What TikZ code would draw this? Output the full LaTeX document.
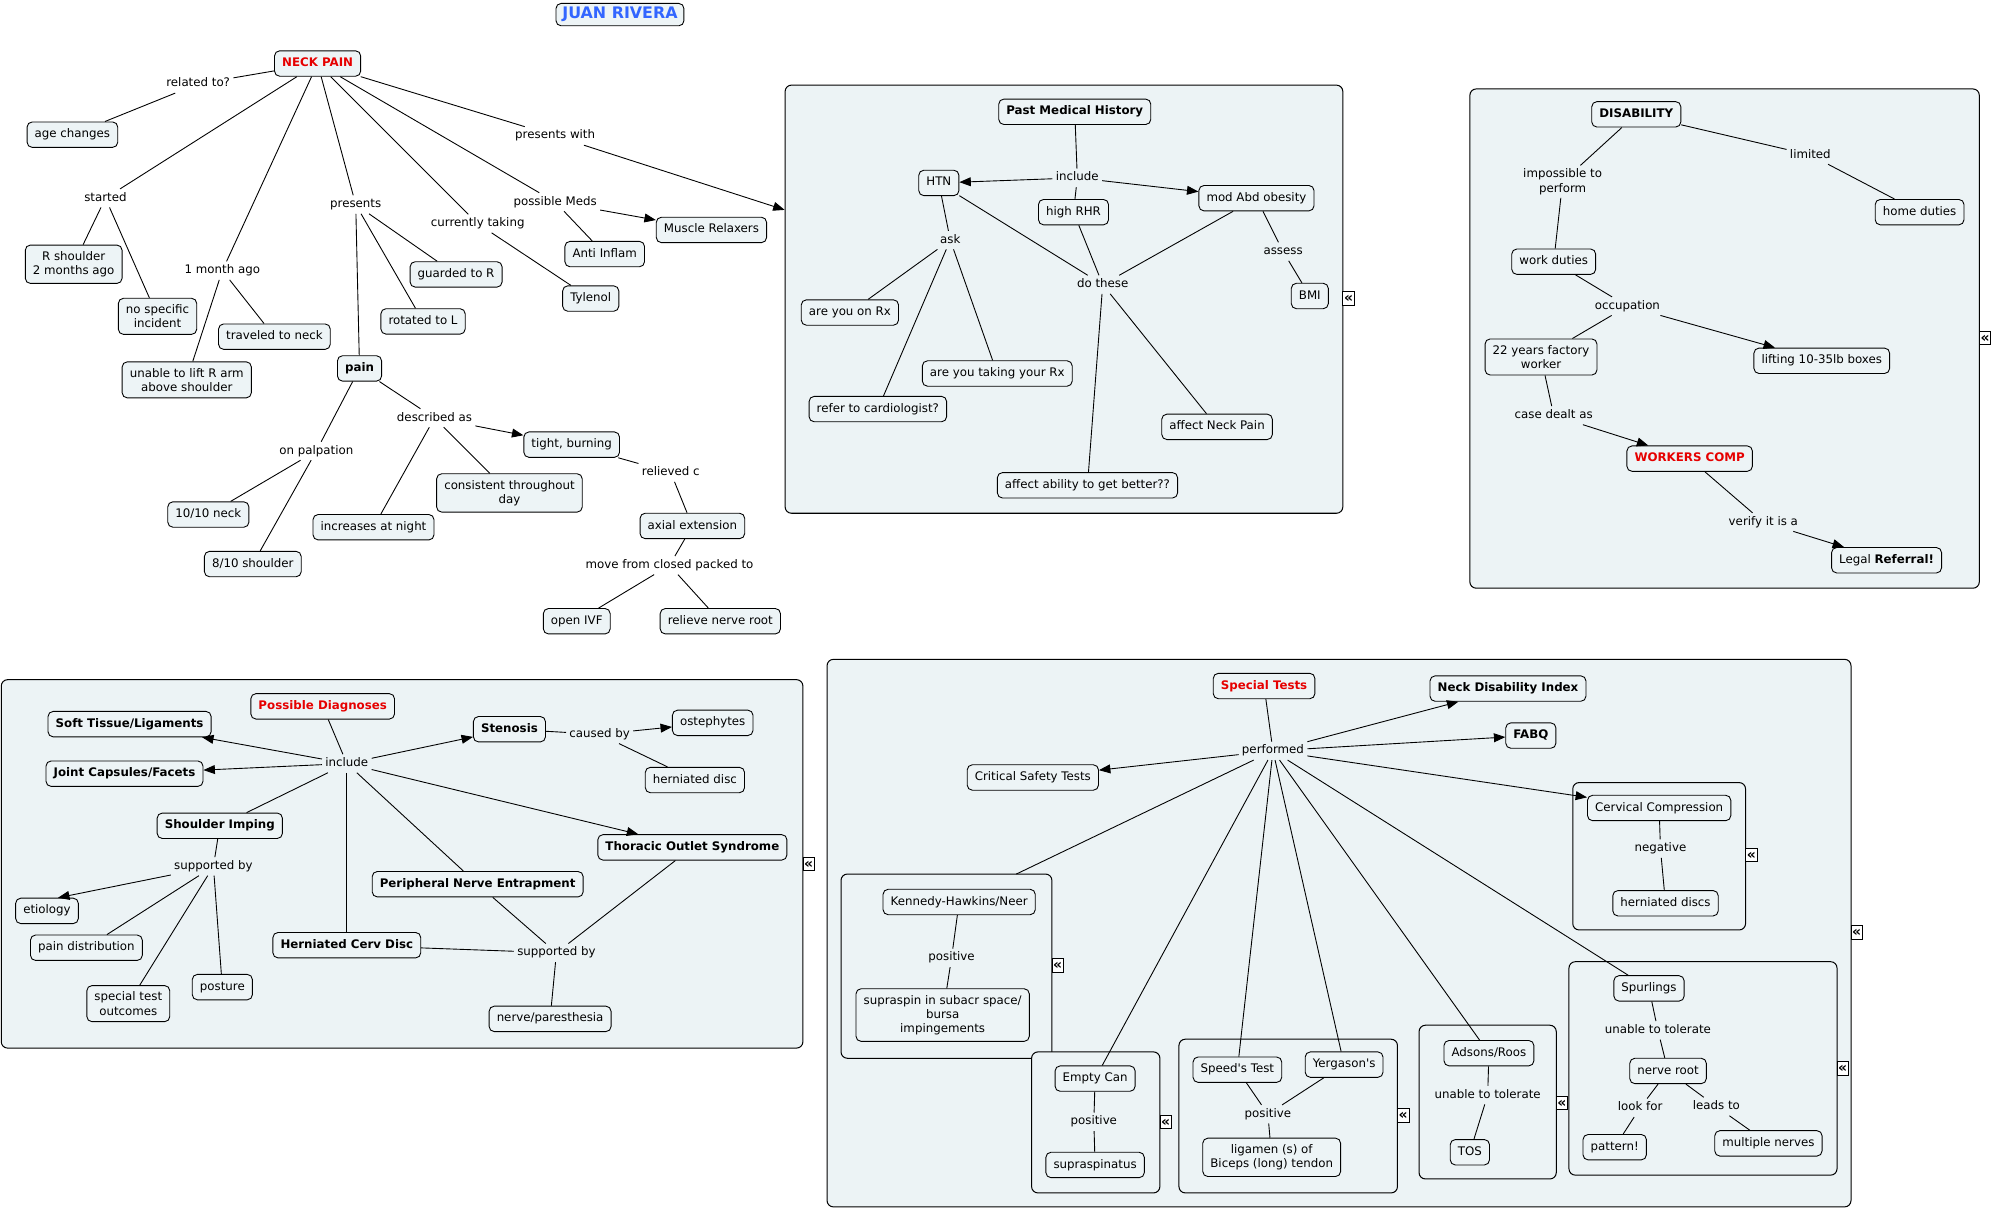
\documentclass[tikz,border=0pt]{standalone}
\usepackage{fontspec}
\setmainfont{DejaVu Sans}
\usetikzlibrary{arrows.meta,fit}
\definecolor{nfill}{RGB}{237,244,246}
\definecolor{cfill}{RGB}{236,243,245}
\definecolor{cmred}{RGB}{230,0,0}
\definecolor{cmblue}{RGB}{51,102,255}
\newcommand\nf{\fontsize{9.3}{11.2}\selectfont}
\begin{document}
\begin{tikzpicture}[x=1pt,y=-1pt,
  box/.style={draw, rounded corners=4pt, fill=nfill, line width=0.7pt, inner xsep=6pt, inner ysep=5.4pt, text height=7pt, text depth=2.2pt, font=\nf},
  bbox/.style={box, font=\nf\bfseries},
  rbox/.style={bbox, text=cmred},
  mbox/.style={draw, rounded corners=4pt, fill=nfill, line width=0.7pt, inner xsep=6pt, inner ysep=5pt, align=center, font=\nf},
  lab/.style={inner sep=2.5pt, text height=7pt, text depth=2.2pt, font=\nf},
  mlab/.style={inner sep=2.5pt, align=center, font=\nf},
  conn/.style={line width=0.7pt},
  arr/.style={conn, -{Triangle[length=9pt,width=7pt]}},
  cont/.style={draw, rounded corners=5pt, fill=cfill, line width=0.8pt, inner sep=0pt},
  icon/.style={draw, fill=white, inner sep=0pt, line width=0.6pt, font=\fontsize{11}{11}\selectfont\bfseries, minimum width=9pt, minimum height=10.5pt, text width=9pt, align=center, text height=7pt, text depth=0pt}
]
\useasboundingbox (0,0) rectangle (1568,952);

% ---------- containers ----------
\node[cont, fit={(618,67) (1057,404)}] (pmhbox) {};
\node[icon] (ic1) at (1061.5,235) {«};
\node[cont, fit={(1157,70) (1558,463)}] (disbox) {};
\node[icon] (ic2) at (1562.5,266) {«};
\node[cont, fit={(1,535) (632,825)}] (pdbox) {};
\node[icon] (ic3) at (636.5,680) {«};
\node[cont, fit={(651,519) (1457,950)}] (stbox) {};
\node[icon] (ic4) at (1461.5,734) {«};
\node[cont, fit={(1238,616) (1374,732)}] (ccbox) {};
\node[icon] (ic5) at (1378.5,673) {«};
\node[cont, fit={(662,688) (828,833)}] (khbox) {};
\node[icon] (ic6) at (832.5,760) {«};
\node[cont, fit={(812,828) (913,939)}] (ecbox) {};
\node[icon] (ic7) at (917.5,883) {«};
\node[cont, fit={(928,818) (1100,939)}] (spbox) {};
\node[icon] (ic8) at (1104.5,878) {«};
\node[cont, fit={(1117,807) (1225,928)}] (adbox) {};
\node[icon] (ic9) at (1229.5,868) {«};
\node[cont, fit={(1235,757) (1446,925)}] (spurbox) {};
\node[icon] (ic10) at (1450.5,841) {«};

% ---------- title ----------
\node[draw, rounded corners=4pt, fill=nfill, line width=0.7pt, inner xsep=5pt, inner ysep=3pt, text=cmblue, font=\fontsize{12.5}{14}\selectfont\bfseries] (title) at (488,11.5) {JUAN RIVERA};

% ---------- NECK PAIN map ----------
\node[rbox] (np) at (250,50) {NECK PAIN};
\node[lab] (relto) at (156,66) {related to?};
\node[box] (agech) at (57,106) {age changes};
\node[lab] (started) at (83,156) {started};
\node[mbox] (rsh) at (58,208) {R shoulder\\2 months ago};
\node[mbox] (nospec) at (124,249) {no specific\\incident};
\node[lab] (onemo) at (175,213) {1 month ago};
\node[box] (trav) at (216,265) {traveled to neck};
\node[mbox] (unable) at (147,299) {unable to lift R arm\\above shoulder};
\node[lab] (presents) at (280,161) {presents};
\node[box] (guarded) at (359,216) {guarded to R};
\node[box] (rotated) at (333,253) {rotated to L};
\node[bbox] (pain) at (283,290) {pain};
\node[lab] (curtak) at (376,176) {currently taking};
\node[box] (tyl) at (465,235) {Tylenol};
\node[lab] (posmeds) at (437,159) {possible Meds};
\node[box] (antiinf) at (476,200) {Anti Inflam};
\node[box] (musrel) at (560,181) {Muscle Relaxers};
\node[lab] (preswith) at (437,107) {presents with};
\node[lab] (onpalp) at (249,355) {on palpation};
\node[box] (n1010) at (164,405) {10/10 neck};
\node[box] (s810) at (199,444) {8/10 shoulder};
\node[lab] (descas) at (342,329) {described as};
\node[box] (tight) at (450,350) {tight, burning};
\node[box] (incnight) at (294,415) {increases at night};
\node[mbox] (consist) at (401,388) {consistent throughout\\day};
\node[lab] (relc) at (528,372) {relieved c};
\node[box] (axial) at (545,414) {axial extension};
\node[lab] (movefrom) at (527,445) {move from closed packed to};
\node[box] (openivf) at (454,489) {open IVF};
\node[box] (relieve) at (567,489) {relieve nerve root};

\draw[conn] (np) -- (relto) -- (agech);
\draw[conn] (np) -- (started);
\draw[conn] (started) -- (rsh);
\draw[conn] (started) -- (nospec);
\draw[conn] (np) -- (onemo);
\draw[conn] (onemo) -- (trav);
\draw[conn] (onemo) -- (unable);
\draw[conn] (np) -- (presents);
\draw[conn] (presents) -- (guarded);
\draw[conn] (presents) -- (rotated);
\draw[conn] (presents) -- (pain);
\draw[conn] (np) -- (curtak) -- (tyl);
\draw[conn] (np) -- (posmeds) -- (antiinf);
\draw[arr] (posmeds) -- (musrel);
\draw[conn] (np) -- (preswith);
\draw[arr] (preswith) -- (pmhbox);
\draw[conn] (pain) -- (onpalp);
\draw[conn] (onpalp) -- (n1010);
\draw[conn] (onpalp) -- (s810);
\draw[conn] (pain) -- (descas);
\draw[arr] (descas) -- (tight);
\draw[conn] (descas) -- (incnight);
\draw[conn] (descas) -- (consist);
\draw[conn] (tight) -- (relc) -- (axial) -- (movefrom);
\draw[conn] (movefrom) -- (openivf);
\draw[conn] (movefrom) -- (relieve);

% ---------- Past Medical History ----------
\node[bbox] (pmh) at (846,88) {Past Medical History};
\node[lab] (incl) at (848,140) {include};
\node[box] (htn) at (739,144) {HTN};
\node[box] (rhr) at (845,167) {high RHR};
\node[box] (obes) at (989,156) {mod Abd obesity};
\node[lab] (ask) at (748,189) {ask};
\node[lab] (dothese) at (868,224) {do these};
\node[lab] (assess) at (1010,198) {assess};
\node[box] (bmi) at (1031,233) {BMI};
\node[box] (onrx) at (669,246) {are you on Rx};
\node[box] (takrx) at (785,294) {are you taking your Rx};
\node[box] (cardio) at (691,322) {refer to cardiologist?};
\node[box] (affneck) at (958,336) {affect Neck Pain};
\node[box] (affab) at (856,382) {affect ability to get better??};

\draw[conn] (pmh) -- (incl);
\draw[arr] (incl) -- (htn);
\draw[arr] (incl) -- (obes);
\draw[conn] (incl) -- (rhr);
\draw[conn] (htn) -- (ask);
\draw[conn] (ask) -- (onrx);
\draw[conn] (ask) -- (takrx);
\draw[conn] (ask) -- (cardio);
\draw[conn] (htn) -- (dothese);
\draw[conn] (rhr) -- (dothese);
\draw[conn] (obes) -- (dothese);
\draw[conn] (dothese) -- (affneck);
\draw[conn] (dothese) -- (affab);
\draw[conn] (obes) -- (assess) -- (bmi);

% ---------- Disability ----------
\node[bbox] (dis) at (1288,90) {DISABILITY};
\node[mlab] (imposs) at (1230,143) {impossible to\\perform};
\node[lab] (limited) at (1425,122) {limited};
\node[box] (home) at (1511,167) {home duties};
\node[box] (work) at (1223,206) {work duties};
\node[lab] (occup) at (1281,241) {occupation};
\node[mbox] (factory) at (1213,281) {22 years factory\\worker};
\node[box] (lifting) at (1434,284) {lifting 10-35lb boxes};
\node[lab] (casedealt) at (1223,327) {case dealt as};
\node[rbox] (wc) at (1330,361) {WORKERS COMP};
\node[lab] (verify) at (1388,411) {verify it is a};
\node[box] (legal) at (1485,441) {Legal \textbf{Referral!}};

\draw[conn] (dis) -- (imposs) -- (work);
\draw[conn] (dis) -- (limited) -- (home);
\draw[conn] (work) -- (occup) -- (factory);
\draw[arr] (occup) -- (lifting);
\draw[conn] (factory) -- (casedealt);
\draw[arr] (casedealt) -- (wc);
\draw[conn] (wc) -- (verify);
\draw[arr] (verify) -- (legal);

% ---------- Possible Diagnoses ----------
\node[rbox] (pd) at (254,556) {Possible Diagnoses};
\node[bbox] (soft) at (102,570) {Soft Tissue/Ligaments};
\node[bbox] (joint) at (98,609) {Joint Capsules/Facets};
\node[lab] (pdincl) at (273,601) {include};
\node[bbox] (sten) at (401,574) {Stenosis};
\node[lab] (causedby) at (472,578) {caused by};
\node[box] (osteo) at (561,569) {ostephytes};
\node[box] (hdisc) at (547,614) {herniated disc};
\node[bbox] (shimp) at (173,650) {Shoulder Imping};
\node[bbox] (tos) at (545,667) {Thoracic Outlet Syndrome};
\node[bbox] (pne) at (376,696) {Peripheral Nerve Entrapment};
\node[lab] (sb1) at (168,682) {supported by};
\node[box] (etio) at (37,717) {etiology};
\node[box] (paind) at (68,746) {pain distribution};
\node[mbox] (spec) at (101,790) {special test\\outcomes};
\node[box] (posture) at (175,777) {posture};
\node[bbox] (hcd) at (273,744) {Herniated Cerv Disc};
\node[lab] (sb2) at (438,750) {supported by};
\node[box] (nerve) at (433,802) {nerve/paresthesia};

\draw[conn] (pd) -- (pdincl);
\draw[arr] (pdincl) -- (soft);
\draw[arr] (pdincl) -- (joint);
\draw[arr] (pdincl) -- (sten);
\draw[arr] (pdincl) -- (tos);
\draw[conn] (pdincl) -- (shimp);
\draw[conn] (pdincl) -- (hcd);
\draw[conn] (pdincl) -- (pne);
\draw[conn] (sten) -- (causedby);
\draw[arr] (causedby) -- (osteo);
\draw[conn] (causedby) -- (hdisc);
\draw[conn] (shimp) -- (sb1);
\draw[arr] (sb1) -- (etio.50);
\draw[conn] (sb1) -- (paind);
\draw[conn] (sb1) -- (spec);
\draw[conn] (sb1) -- (posture);
\draw[conn] (hcd) -- (sb2);
\draw[conn] (pne) -- (sb2);
\draw[conn] (tos) -- (sb2);
\draw[conn] (sb2) -- (nerve);

% ---------- Special Tests ----------
\node[rbox] (st) at (995,540) {Special Tests};
\node[bbox] (ndi) at (1187,542) {Neck Disability Index};
\node[bbox] (fabq) at (1205,579) {FABQ};
\node[lab] (perf) at (1002,591) {performed};
\node[box] (cst) at (813,612) {Critical Safety Tests};
\node[box] (cc) at (1306,636) {Cervical Compression};
\node[lab] (neg) at (1307,668) {negative};
\node[box] (hdiscs) at (1311,711) {herniated discs};
\node[box] (kh) at (755,710) {Kennedy-Hawkins/Neer};
\node[lab] (pos1) at (749,754) {positive};
\node[mbox] (supra1) at (742,799) {supraspin in subacr space/\\bursa\\impingements};
\node[box] (ec) at (862,849) {Empty Can};
\node[lab] (pos2) at (861,883) {positive};
\node[box] (supra2) at (862,917) {supraspinatus};
\node[box] (speed) at (974,842) {Speed\textquotesingle s Test};
\node[box] (yerg) at (1058,838) {Yergason\textquotesingle s};
\node[lab] (pos3) at (998,877) {positive};
\node[mbox] (lig) at (1001,911) {ligamen (s) of\\Biceps (long) tendon};
\node[box] (adson) at (1172,829) {Adsons/Roos};
\node[lab] (unab1) at (1171,862) {unable to tolerate};
\node[box] (tosn) at (1157,907) {TOS};
\node[box] (spur) at (1298,778) {Spurlings};
\node[lab] (unab2) at (1305,811) {unable to tolerate};
\node[box] (nroot) at (1313,843) {nerve root};
\node[lab] (lookfor) at (1291,872) {look for};
\node[lab] (leadsto) at (1351,871) {leads to};
\node[box] (pattern) at (1271,903) {pattern!};
\node[box] (multi) at (1392,900) {multiple nerves};
\coordinate (khtop) at (800,688);

\draw[conn] (st) -- (perf);
\draw[arr] (perf) -- (ndi);
\draw[arr] (perf) -- (fabq);
\draw[arr] (perf) -- (cst);
\draw[arr] (perf) -- (cc);
\draw[conn] (perf) -- (khtop);
\draw[conn] (perf) -- (ec);
\draw[conn] (perf) -- (speed);
\draw[conn] (perf) -- (yerg);
\draw[conn] (perf) -- (adson);
\draw[conn] (perf) -- (spur);
\draw[conn] (cc) -- (neg) -- (hdiscs);
\draw[conn] (kh) -- (pos1) -- (supra1);
\draw[conn] (ec) -- (pos2) -- (supra2);
\draw[conn] (speed) -- (pos3);
\draw[conn] (yerg) -- (pos3);
\draw[conn] (pos3) -- (lig);
\draw[conn] (adson) -- (unab1) -- (tosn);
\draw[conn] (spur) -- (unab2) -- (nroot);
\draw[conn] (nroot) -- (lookfor) -- (pattern);
\draw[conn] (nroot) -- (leadsto) -- (multi);
\end{tikzpicture}
\end{document}
